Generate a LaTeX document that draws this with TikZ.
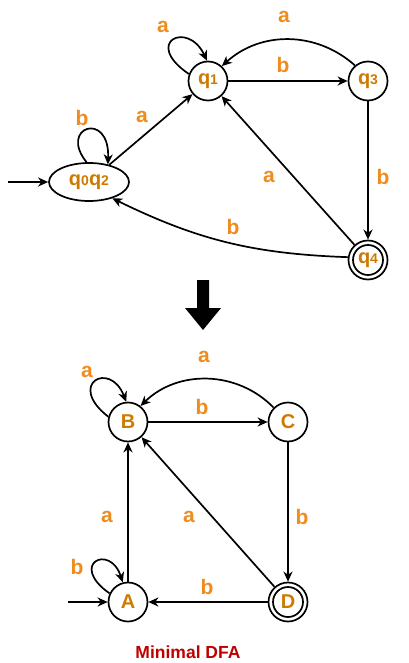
\documentclass[tikz,border=0pt]{standalone}
\usepackage{fontspec}
\setmainfont{Liberation Sans}
\usetikzlibrary{arrows.meta,shapes.geometric}
\definecolor{lblc}{RGB}{240,140,30}
\definecolor{nodec}{RGB}{204,122,0}
\definecolor{titlec}{RGB}{192,0,0}
\newcommand{\sm}[1]{{\fontsize{14}{14}\selectfont #1}}
\begin{document}
\begin{tikzpicture}[x=1pt,y=-1pt,
  st/.style={circle,draw,line width=1.7pt,minimum size=39pt,inner sep=0pt,
    text=nodec,font=\fontsize{20}{20}\selectfont\bfseries},
  ell/.style={ellipse,draw,line width=1.7pt,minimum width=80pt,minimum height=38pt,inner sep=0pt,
    text=nodec,font=\fontsize{20}{20}\selectfont\bfseries},
  edge/.style={line width=1.7pt,-{Stealth[length=10pt,width=9pt,inset=3pt]}},
  lbl/.style={text=lblc,font=\fontsize{21}{21}\selectfont\bfseries,inner sep=0pt}]
\useasboundingbox (0,0) rectangle (409,663);
% ---------- top automaton ----------
\node[ell] (q02) at (89,182) {q\sm{0}q\sm{2}};
\node[st] (q1) at (208,81) {q\sm{1}};
\node[st] (q3) at (368,81) {q\sm{3}};
\node[st] (q4) at (368,260) {q\sm{4}};
\draw[line width=1.7pt] (q4.center) circle[radius=15pt];
\coordinate (i1) at (8,182);
\draw[edge] (i1) -- (q02);
\draw[edge] (q02.97) .. controls (58,127) and (110,110) .. (q02.43);
\draw[edge] (q1.160) .. controls (142,42) and (188,20) .. (q1.93);
\draw[edge] (q02) -- (q1);
\draw[edge] (q1) -- (q3);
\draw[edge] (q3.130) to[bend right=42] (q1.47);
\draw[edge] (q3) -- (q4);
\draw[edge] (q4) -- (q1);
\draw[edge] (q4.172) to[bend left=12] (q02.-35);
\node[lbl] (l1) at (163,27) {a};
\node[lbl] (l2) at (284,17) {a};
\node[lbl] (l3) at (283,65) {b};
\node[lbl] (l4) at (82,118) {b};
\node[lbl] (l5) at (142,117) {a};
\node[lbl] (l6) at (269,177) {a};
\node[lbl] (l7) at (383,177) {b};
\node[lbl] (l8) at (233,227) {b};
% ---------- big arrow ----------
\fill[black] (197,280) -- (209,280) -- (209,308) -- (221,308) -- (203,330) -- (185,308) -- (197,308) -- cycle;
% ---------- minimal DFA ----------
\node[st] (B) at (128,422) {B};
\node[st] (C) at (288,422) {C};
\node[st] (A) at (128,602) {A};
\node[st] (D) at (288,602) {D};
\draw[line width=1.7pt] (D.center) circle[radius=15pt];
\coordinate (i2) at (68,602);
\draw[edge] (i2) -- (A);
\draw[edge] (B.165) .. controls (66,384) and (110,360) .. (B.95);
\draw[edge] (A.155) .. controls (68,564) and (110,543) .. (A.105);
\draw[edge] (A) -- (B);
\draw[edge] (B) -- (C);
\draw[edge] (C.135) to[bend right=45] (B.52);
\draw[edge] (C) -- (D);
\draw[edge] (D) -- (B);
\draw[edge] (D) -- (A);
\node[lbl] (m1) at (87,372) {a};
\node[lbl] (m2) at (204,357) {a};
\node[lbl] (m3) at (202,407) {b};
\node[lbl] (m4) at (77,567) {b};
\node[lbl] (m5) at (107,517) {a};
\node[lbl] (m6) at (189,517) {a};
\node[lbl] (m7) at (302,517) {b};
\node[lbl] (m8) at (207,587) {b};
\node[text=titlec,font=\fontsize{17.5}{17.5}\selectfont\bfseries] (title) at (188,652) {Minimal DFA};
\end{tikzpicture}
\end{document}
